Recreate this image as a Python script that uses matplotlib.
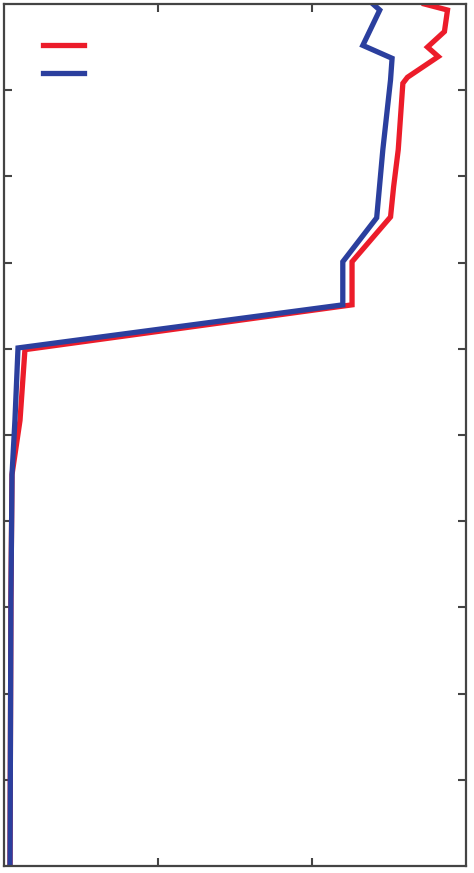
import numpy as np
import matplotlib
matplotlib.use("Agg")
import matplotlib.pyplot as plt

# depth profiles (x value, depth); depth axis points downward
depth_red = [0.0, 0.07, 0.32, 0.50, 0.61, 0.85, 0.92, 1.69, 2.12, 2.47, 2.99, 3.49, 4.01, 4.83, 5.46, 6.91, 10.0]
x_red = [2.73, 2.88, 2.86, 2.75, 2.82, 2.62, 2.59, 2.56, 2.53, 2.51, 2.26, 2.26, 0.136, 0.104, 0.052, 0.045, 0.039]

depth_blue = [0.0, 0.07, 0.48, 0.63, 0.88, 1.69, 2.48, 2.99, 3.49, 3.99, 4.83, 5.46, 6.91, 10.0]
x_blue = [2.396, 2.44, 2.33, 2.52, 2.51, 2.46, 2.42, 2.20, 2.20, 0.091, 0.071, 0.052, 0.045, 0.039]

red = '#ec1c2a'
blue = '#2b3f9e'
frame = '#444444'

fig = plt.figure(figsize=(4.74, 8.73), dpi=100)
ax = fig.add_axes([4/474, 7/873, 462/474, 862/873])

l1, = ax.plot(x_red, depth_red, color=red, lw=3.8, solid_joinstyle='miter')
l2, = ax.plot(x_blue, depth_blue, color=blue, lw=3.8, solid_joinstyle='miter')

ax.set_xlim(0, 3)
ax.set_ylim(10, 0)
ax.set_xticks([1, 2])
ax.set_yticks(range(1, 10))
ax.tick_params(direction='in', length=6, width=1.5, color=frame,
               top=True, right=True, labelbottom=False, labelleft=False)
for s in ax.spines.values():
    s.set_color(frame)
    s.set_linewidth(1.6)

ax.legend([l1, l2], ['', ''], loc='upper left', bbox_to_anchor=(0.058, 0.974),
          frameon=False, handlelength=2.9, labelspacing=0.98, handletextpad=0)

fig.savefig('out.png', dpi=100)
